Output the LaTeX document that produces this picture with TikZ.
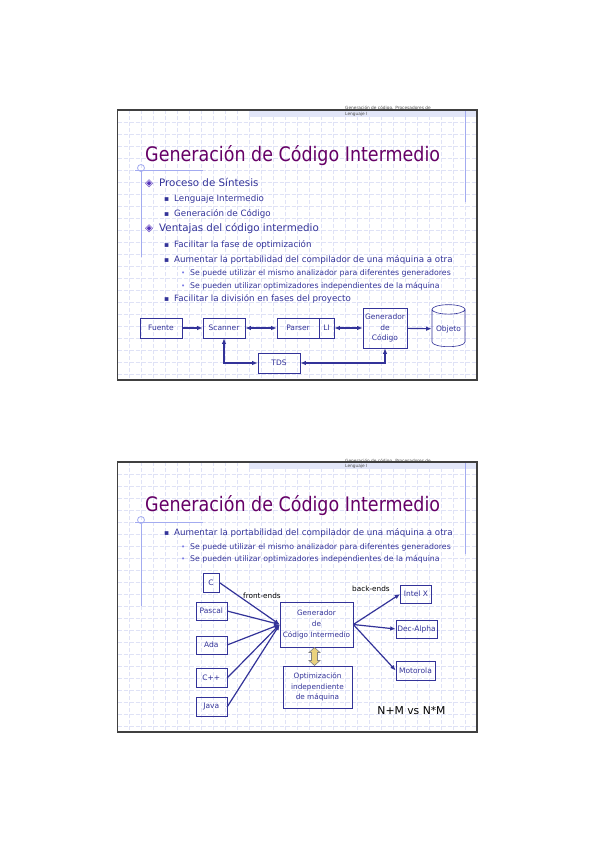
\documentclass[tikz,border=0pt]{standalone}
\usepackage{fontspec}
\setmainfont{DejaVu Sans}
\newfontfamily\titlefont[FakeStretch=0.875]{DejaVu Sans}
\usetikzlibrary{arrows.meta,shapes.geometric}
\definecolor{slideblue}{HTML}{333399}
\definecolor{titlepurple}{HTML}{660066}
\definecolor{gridblue}{HTML}{DFE2F6}
\definecolor{rulerblue}{HTML}{A3ABF0}
\definecolor{bandblue}{HTML}{E2E6F8}
\definecolor{bulletpurple}{HTML}{5533BB}
\definecolor{bulletlight}{HTML}{7B7BE6}
\definecolor{arrowyellow}{HTML}{EAD27E}
\newcommand{\bulone}{\makebox[14pt][l]{\textcolor{bulletpurple}{\fontsize{10.5}{10}\selectfont ◈}}}
\newcommand{\bultwo}{\makebox[10pt][l]{\textcolor{slideblue}{\fontsize{7.5}{7}\selectfont ▪}}}
\newcommand{\bulthree}{\makebox[9pt][l]{\textcolor{bulletlight}{\fontsize{7}{7}\selectfont •}}}
\begin{document}
\begin{tikzpicture}[x=1pt,y=-1pt,
  box/.style={draw=slideblue,line width=0.6pt,text=slideblue,font=\fontsize{7.5}{10.8}\selectfont,inner sep=1pt,align=center},
  flow/.style={draw=slideblue,line width=1.2pt,-{Latex[length=5.5pt,width=4.5pt]}},
  twoway/.style={flow,{Latex[length=5.5pt,width=4.5pt]}-{Latex[length=5.5pt,width=4.5pt]}},
  lone/.style={anchor=base west,inner sep=0pt,text=slideblue,font=\fontsize{10.3}{12}\selectfont},
  ltwo/.style={lone,font=\fontsize{8.7}{10}\selectfont},
  lthree/.style={lone,font=\fontsize{7.8}{8}\selectfont},
  gridline/.style={gridblue,line width=0.5pt,dash pattern=on 4pt off 2pt},
  ruler/.style={rulerblue,line width=0.8pt}]
\useasboundingbox (0,0) rectangle (595,842);
\fill[white] (0,0) rectangle (595,842);
\foreach \sy/\tb/\rb in {110/161.7/257, 462/511.3/606} {
  \foreach \k in {1,...,29}
    \draw[gridline] (117.5+12*\k,\sy) -- (117.5+12*\k,\sy+270);
  \foreach \k in {1,...,22}
    \draw[gridline] (117.5,\sy+12*\k) -- (477,\sy+12*\k);
  \fill[bandblue] (249,\sy) rectangle (477,\sy+7);
  \draw[ruler] (465,\sy) -- (465,\sy+92);
  \draw[ruler] (135,\sy+60) -- (203,\sy+60);
  \draw[ruler] (141,\sy+61.5) -- (141,\rb);
  \draw[ruler] (141,\sy+58) circle (3.5pt);
  \node[anchor=base west,inner sep=0pt,align=left,text=black!70,font=\fontsize{4.3}{5.5}\selectfont] (header\sy) at (345,\sy+5.5) {Generación de código. Procesadores de\\Lenguaje I};
  \node[anchor=base west,inner sep=0pt,text=titlepurple,font=\titlefont\fontsize{20}{24}\selectfont] (title\sy) at (145,\tb) {Generación de Código Intermedio};
  \draw[black!75,line width=1.3pt] (117.5,\sy) rectangle (477,\sy+270);
}

\node[lone] (sintesis) at (145,186.7) {\bulone Proceso de Síntesis};
\node[ltwo] (lenguaje) at (164,201.7) {\bultwo Lenguaje Intermedio};
\node[ltwo] (generacion) at (164,216) {\bultwo Generación de Código};
\node[lone] (ventajas) at (145,231.7) {\bulone Ventajas del código intermedio};
\node[ltwo] (optimizacion) at (164,247.2) {\bultwo Facilitar la fase de optimización};
\node[ltwo] (portabilidad) at (164,262) {\bultwo Aumentar la portabilidad del compilador de una máquina a otra};
\node[lthree] (analizador) at (181,275.5) {\bulthree Se puede utilizar el mismo analizador para diferentes generadores};
\node[lthree] (optimizadores) at (181,288.5) {\bulthree Se pueden utilizar optimizadores independientes de la máquina};
\node[ltwo] (division) at (164,301.7) {\bultwo Facilitar la división en fases del proyecto};

\node[box,minimum width=42pt,minimum height=20pt] (fuente) at (161,328) {Fuente};
\node[box,minimum width=42pt,minimum height=20pt] (scanner) at (224,328) {Scanner};
\node[box,minimum width=42pt,minimum height=20pt] (parser) at (298,328) {Parser};
\node[box,minimum width=15pt,minimum height=20pt] (li) at (326.5,328) {LI};
\node[box,minimum width=44pt,minimum height=40pt] (gencod) at (385,328) {Generador\\de\\Código};
\node[box,cylinder,shape border rotate=90,aspect=0.35,minimum width=33pt,minimum height=42pt] (objeto) at (448.5,329) {Objeto};
\node[box,minimum width=42pt,minimum height=20pt] (tds) at (279,363) {TDS};
\draw[flow] (fuente) -- (scanner);
\draw[twoway] (scanner) -- (parser);
\draw[twoway] (li) -- (gencod);
\draw[flow] (gencod) -- (objeto);
\draw[twoway] (scanner) |- (tds);
\draw[twoway] (tds) -| (gencod);

\node[ltwo] (portabilidadB) at (164,535.7) {\bultwo Aumentar la portabilidad del compilador de una máquina a otra};
\node[lthree] (analizadorB) at (181,549) {\bulthree Se puede utilizar el mismo analizador para diferentes generadores};
\node[lthree] (optimizadoresB) at (181,561.5) {\bulthree Se pueden utilizar optimizadores independientes de la máquina};

\node[box,minimum width=16pt,minimum height=19pt] (c) at (211,582.5) {C};
\node[box,minimum width=31pt,minimum height=18pt] (pascal) at (211.3,611) {Pascal};
\node[box,minimum width=31pt,minimum height=18pt] (ada) at (211.3,645) {Ada};
\node[box,minimum width=31pt,minimum height=19pt] (cpp) at (211.3,678) {C++};
\node[box,minimum width=31pt,minimum height=19pt] (java) at (211.3,707) {Java};
\node[box,minimum width=73pt,minimum height=45pt,font=\fontsize{7.3}{11}\selectfont] (genci) at (316.5,624.5) {Generador\\de\\Código Intermedio};
\node[box,minimum width=69pt,minimum height=42pt,font=\fontsize{7.3}{10.8}\selectfont] (optind) at (317.5,687) {Optimización\\independiente\\de máquina};
\node[box,minimum width=31pt,minimum height=18pt] (intel) at (416,594) {Intel X};
\node[box,minimum width=41pt,minimum height=18pt] (decalpha) at (416.5,629) {Dec-Alpha};
\node[box,minimum width=39pt,minimum height=19pt] (motorola) at (415.5,670.5) {Motorola};
\node[font=\fontsize{7.3}{8}\selectfont,inner sep=0pt] (frontends) at (262,596) {front-ends};
\node[font=\fontsize{7.3}{8}\selectfont,inner sep=0pt] (backends) at (371,589) {back-ends};
\node[font=\fontsize{10.8}{12}\selectfont,inner sep=0pt] (nvsm) at (411.5,711) {N+M vs N*M};
\foreach \src in {c,pascal,ada,cpp,java}
  \draw[flow] (\src.east) -- (genci.west);
\foreach \dst in {intel,decalpha,motorola}
  \draw[flow] (genci.east) -- (\dst.west);
\draw[fill=arrowyellow,draw=black!50,line width=0.6pt] (314.5,647.5) -- (320,652.5) -- (317.5,652.5) -- (317.5,660.5) -- (320,660.5) -- (314.5,665.5) -- (309,660.5) -- (311.5,660.5) -- (311.5,652.5) -- (309,652.5) -- cycle;
\end{tikzpicture}
\end{document}
